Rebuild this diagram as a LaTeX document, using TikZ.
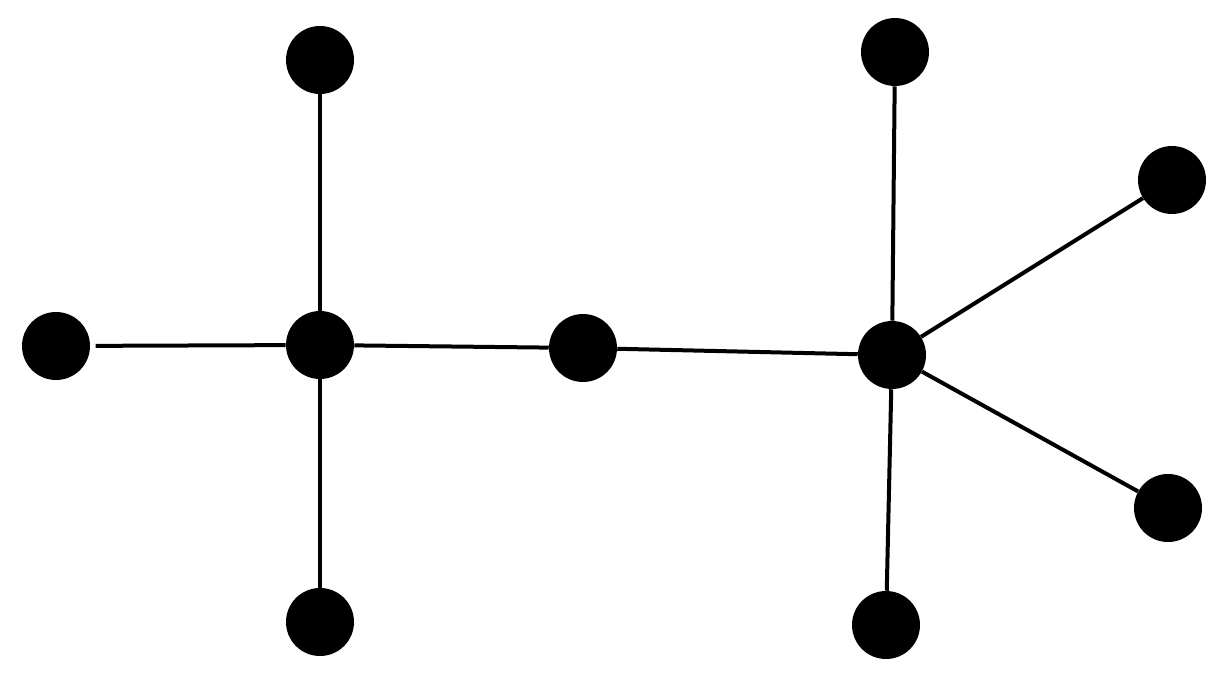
\documentclass[tikz,border=0pt]{standalone}
\usepackage{pgfplots}

\begin{document}
\begin{tikzpicture}[x=0.75pt,y=0.75pt,yscale=-1,xscale=1,
  dot/.style={circle,fill=black,draw=none,minimum size=51pt,inner sep=0pt},
  edge/.style={draw=black,line width=3pt}]
%set diagram left start at 0, and has height of 681
\useasboundingbox (0,0) rectangle (1228,681);

%Shape: Circle [left star]
\node [dot] (lc) at (320,345) {};
\node [dot] (lt) at (320,60) {};
\node [dot] (ll) at (56,346) {};
\node [dot] (lb) at (320,622) {};
%Shape: Circle [middle]
\node [dot] (mid) at (583,348) {};
%Shape: Circle [right star]
\node [dot] (rc) at (892,355) {};
\node [dot] (rt) at (895,52) {};
\node [dot] (rur) at (1172,180) {};
\node [dot] (rlr) at (1168,508) {};
\node [dot] (rb) at (886,625) {};

%Straight Lines
\draw [edge] (lc) -- (lt) ;
\draw [edge,shorten >=4pt] (lc) -- (ll) ;
\draw [edge] (lc) -- (lb) ;
\draw [edge] (lc) -- (mid) ;
\draw [edge] (mid) -- (rc) ;
\draw [edge] (rc) -- (rt) ;
\draw [edge] (rc) -- (rur) ;
\draw [edge] (rc) -- (rlr) ;
\draw [edge] (rc) -- (rb) ;

\end{tikzpicture}
\end{document}
